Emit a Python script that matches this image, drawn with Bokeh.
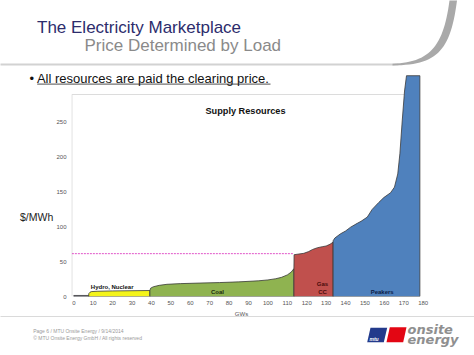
import numpy as np
from bokeh.plotting import figure
from bokeh.models import Range1d, FixedTicker
from bokeh.core.properties import value
from bokeh.embed import file_html
from bokeh.resources import INLINE

# ---------------- data (GW vs $/MWh) ----------------
base_gw = [0.0, 7.7]
base_price = [1.5, 1.5]

hydro_gw = [7.7, 8.3, 9.0, 12.0, 20.0, 30.0, 39.2]
hydro_price = [4.0, 6.0, 7.0, 7.5, 8.0, 8.3, 8.6]

coal_gw = [39.2, 39.6, 41.0, 44.0, 48.0, 55.0, 65.0, 75.0, 85.0, 95.0, 100.0, 104.0, 107.0, 110.0, 112.0, 113.4]
coal_price = [8.6, 12.0, 14.0, 16.0, 17.5, 18.5, 19.3, 20.0, 21.0, 22.5, 23.8, 25.5, 27.5, 31.0, 35.0, 40.0]

gas_gw = [113.4, 113.5, 116.0, 118.5, 121.0, 123.0, 125.5, 128.0, 130.0, 132.0, 133.6]
gas_price = [40.0, 60.0, 61.0, 62.0, 64.5, 67.5, 70.0, 71.5, 72.5, 75.0, 78.0]

peak_gw = [133.6, 134.5, 137.4, 140.0, 142.6, 146.0, 148.0, 151.2, 153.7, 157.1, 159.7,
           163.2, 165.2, 166.9, 168.0, 169.2, 170.4, 171.4, 178.3]
peak_price = [80.0, 84.0, 90.0, 94.0, 99.5, 105.0, 108.0, 114.0, 125.0, 135.0, 142.0,
              149.0, 157.0, 176.0, 205.0, 252.0, 295.0, 317.0, 317.0]

clearing_price = 61.5
x_ticks = list(range(0, 181, 10))
y_ticks = [0, 50, 100, 150, 200, 250]

# ---------------- figure geometry ----------------
W, H = 474, 355
BL, BR, BT, BB = 71, 42, 60, 59
FW, FH = W - BL - BR, H - BT - BB
PX_PER_GW = 1.941
PX_PER_USD = 0.6965
X0 = -(73.3 - BL) / PX_PER_GW
X1 = X0 + FW / PX_PER_GW
Y1 = FH / PX_PER_USD

def gx(px):
    return X0 + (px - BL) / FW * (X1 - X0)

def gy(py):
    return (H - BB - py) / FH * Y1

p = figure(width=W, height=H, x_range=Range1d(X0, X1), y_range=Range1d(0, Y1),
           output_backend="svg", toolbar_location=None,
           min_border_left=BL, min_border_right=BR, min_border_top=BT, min_border_bottom=BB)
p.outline_line_color = None
p.grid.visible = False
p.background_fill_color = "white"
p.border_fill_color = "white"

FONT = "Liberation Sans"
for ax in (p.xaxis[0], p.yaxis[0]):
    ax.axis_line_color = None
    ax.major_tick_line_color = None
    ax.minor_tick_line_color = None
    ax.major_tick_in = 0
    ax.major_tick_out = 0
    ax.minor_tick_in = 0
    ax.minor_tick_out = 0
    ax.major_label_text_font = FONT
    ax.major_label_text_font_size = "6px"
    ax.major_label_text_color = "#555555"
p.xaxis[0].ticker = FixedTicker(ticks=x_ticks)
p.yaxis[0].ticker = FixedTicker(ticks=y_ticks)
p.xaxis[0].major_label_standoff = 4
p.yaxis[0].major_label_standoff = 5

# chart frame lines
p.line([X0 + 0.2, X0 + 0.2], [0, 290], line_color="#d4d4d4", line_width=1)
p.line([X0 + 0.2, 178], [290, 290], line_color="#dcdcdc", line_width=1)

# clearing price dashed line
p.line([X0 + 0.2, gas_gw[0]], [clearing_price, clearing_price],
       line_color="#e055c8", line_width=1, line_dash="2 1")

def area(xs, ys, fill):
    px_ = [xs[0]] + list(xs) + [xs[-1]]
    py_ = [0] + list(ys) + [0]
    p.patch(px_, py_, fill_color=fill, line_color="#3a3a3a", line_width=0.8)

area(base_gw, base_price, "#6b6b8a")
area(hydro_gw, hydro_price, "#f4f41a")
area(coal_gw, coal_price, "#8fb350")
area(gas_gw, gas_price, "#c0504d")
area(peak_gw, peak_price, "#4f81bd")

def lab(text, x, y, size, color, style="normal", align="center", font=FONT):
    r = p.text(x=[gx(x)], y=[gy(y)], text=[text], text_font=value(font),
               text_font_size=value(size), text_color=color,
               text_font_style=value(style), text_align=value(align),
               text_baseline=value("middle"))
    r.level = "overlay"

# chart texts
lab("Supply Resources", 245, 110, "9.2px", "#111111", "bold")
lab("Hydro, Nuclear", 111.7, 286, "6px", "#111111", "bold")
lab("Coal", 217, 291.7, "6px", "#1d2b0c", "bold")
lab("Gas", 322, 283.5, "6px", "#4a0c0c", "bold")
lab("CC", 322, 291.5, "6px", "#4a0c0c", "bold")
lab("Peakers", 381.7, 291.7, "6px", "#0c1c48", "bold")
lab("$/MWh", 19.5, 216, "10.5px", "#222222", align="left")
lab("GWs", 241, 313.5, "6px", "#555555")

# slide header
lab("The Electricity Marketplace", 36.5, 26.7, "17px", "#2c2c6c", align="left")
lab("Price Determined by Load", 84, 45, "17px", "#8a8a8a", align="left")
lab("\u2022 All resources are paid the clearing price.", 29, 78.3, "13px", "#111111", align="left")
ul = p.line([gx(36.7), gx(270)], [gy(83.6), gy(83.6)], line_color="#222222", line_width=0.8)
ul.level = "overlay"

# header separator + swoosh
sep = p.line([gx(0), gx(398)], [gy(64), gy(64)], line_color="#d2d2d2", line_width=1.8)
sep.level = "overlay"
t = np.linspace(0, 1, 30)
def bez(P0, P1, P2, P3):
    P0, P1, P2, P3 = map(np.array, (P0, P1, P2, P3))
    pts = ((1 - t)[:, None] ** 3 * P0 + 3 * ((1 - t) ** 2 * t)[:, None] * P1
           + 3 * ((1 - t) * t ** 2)[:, None] * P2 + (t ** 3)[:, None] * P3)
    return pts
inner = bez((449, 0), (443, 45), (430, 62), (392, 63.2))
outer = bez((456.5, 0), (450, 50), (437, 64.8), (392, 64.9))
poly = np.vstack([inner, outer[::-1]])
sw = p.patch([gx(v) for v in poly[:, 0]], [gy(v) for v in poly[:, 1]],
             fill_color="#a9a9a9", line_color=None)
sw.level = "overlay"

# footer
bot = p.line([gx(0), gx(474)], [gy(316), gy(316)], line_color="#dadada", line_width=1)
bot.level = "overlay"
lab("Page 6 / MTU Onsite Energy / 9/14/2014", 32.7, 330.7, "5px", "#9a9a9a", align="left")
lab("\u00a9 MTU Onsite Energy GmbH / All rights reserved", 32.7, 337.3, "5px", "#9a9a9a", align="left")

# logo
blue = p.patch([gx(v) for v in (370, 386.7, 383.3, 366.7)], [gy(v) for v in (327.3, 327.3, 341.7, 341.7)],
               fill_color="#233a8b", line_color=None)
blue.level = "overlay"
red = p.patch([gx(v) for v in (389.3, 406, 402.7, 386)], [gy(v) for v in (326.7, 326.7, 341.7, 341.7)],
              fill_color="#e30613", line_color=None)
red.level = "overlay"
lab("mtu", 369, 338.3, "5px", "#ffffff", "bold italic", align="left")
lab("onsite", 407, 329, "13px", "#8f8f8f", "bold italic", align="left", font="DejaVu Sans")
lab("energy", 407, 339, "13px", "#8f8f8f", "bold italic", align="left", font="DejaVu Sans")

open("out.html", "w").write(file_html(p, INLINE))
